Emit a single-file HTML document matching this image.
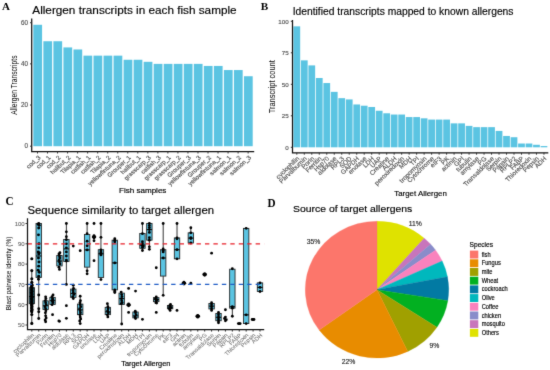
<!DOCTYPE html>
<html><head><meta charset="utf-8"><style>
html,body{margin:0;padding:0;background:#fff;}
svg{display:block;font-family:"Liberation Sans", sans-serif;}
</style></head><body>
<svg width="550" height="370" viewBox="0 0 550 370">
<defs><filter id="bl" x="0" y="0" width="100%" height="100%" color-interpolation-filters="sRGB"><feConvolveMatrix order="3" kernelMatrix="0.02 0.12 0.02 0.12 1 0.12 0.02 0.12 0.02" divisor="1.56" edgeMode="duplicate"/></filter></defs>
<g filter="url(#bl)">
<rect width="550" height="370" fill="#fff"/>
<text x="2.0" y="9.6" font-family="'Liberation Serif', serif" font-weight="bold" font-size="11.0">A</text>
<text x="32.30" y="13.80" font-size="10.2" fill="#000" text-anchor="start" textLength="204.30" lengthAdjust="spacingAndGlyphs"  stroke="#000" stroke-width="0.15">Allergen transcripts in each fish sample</text>
<rect x="33.33" y="24.78" width="8.75" height="121.42" fill="#5bc4e2"/>
<rect x="43.36" y="41.24" width="8.75" height="104.96" fill="#5bc4e2"/>
<rect x="53.39" y="41.24" width="8.75" height="104.96" fill="#5bc4e2"/>
<rect x="63.42" y="47.42" width="8.75" height="98.78" fill="#5bc4e2"/>
<rect x="73.45" y="49.47" width="8.75" height="96.73" fill="#5bc4e2"/>
<rect x="83.48" y="55.65" width="8.75" height="90.55" fill="#5bc4e2"/>
<rect x="93.50" y="55.65" width="8.75" height="90.55" fill="#5bc4e2"/>
<rect x="103.53" y="55.65" width="8.75" height="90.55" fill="#5bc4e2"/>
<rect x="113.56" y="55.65" width="8.75" height="90.55" fill="#5bc4e2"/>
<rect x="123.59" y="59.76" width="8.75" height="86.44" fill="#5bc4e2"/>
<rect x="133.62" y="59.76" width="8.75" height="86.44" fill="#5bc4e2"/>
<rect x="143.65" y="61.82" width="8.75" height="84.38" fill="#5bc4e2"/>
<rect x="153.68" y="63.88" width="8.75" height="82.32" fill="#5bc4e2"/>
<rect x="163.71" y="63.88" width="8.75" height="82.32" fill="#5bc4e2"/>
<rect x="173.74" y="63.88" width="8.75" height="82.32" fill="#5bc4e2"/>
<rect x="183.77" y="63.88" width="8.75" height="82.32" fill="#5bc4e2"/>
<rect x="193.80" y="63.88" width="8.75" height="82.32" fill="#5bc4e2"/>
<rect x="203.83" y="65.94" width="8.75" height="80.26" fill="#5bc4e2"/>
<rect x="213.86" y="65.94" width="8.75" height="80.26" fill="#5bc4e2"/>
<rect x="223.89" y="70.05" width="8.75" height="76.15" fill="#5bc4e2"/>
<rect x="233.92" y="70.05" width="8.75" height="76.15" fill="#5bc4e2"/>
<rect x="243.95" y="76.23" width="8.75" height="69.97" fill="#5bc4e2"/>
<path d="M31.7,18.5V151.6H254.2" fill="none" stroke="#111" stroke-width="1.25"/>
<path d="M30.0,146.20H31.7" stroke="#333" stroke-width="1"/>
<text x="28.00" y="148.40" font-size="6.3" fill="#525252" text-anchor="end"  stroke="#525252" stroke-width="0.15">0</text>
<path d="M30.0,105.04H31.7" stroke="#333" stroke-width="1"/>
<text x="28.00" y="107.24" font-size="6.3" fill="#525252" text-anchor="end"  stroke="#525252" stroke-width="0.15">20</text>
<path d="M30.0,63.88H31.7" stroke="#333" stroke-width="1"/>
<text x="28.00" y="66.08" font-size="6.3" fill="#525252" text-anchor="end"  stroke="#525252" stroke-width="0.15">40</text>
<path d="M30.0,22.72H31.7" stroke="#333" stroke-width="1"/>
<text x="28.00" y="24.92" font-size="6.3" fill="#525252" text-anchor="end"  stroke="#525252" stroke-width="0.15">60</text>
<path d="M37.50,151.6V153.50" stroke="#333" stroke-width="1"/>
<text transform="translate(40.90,157.90) scale(1.1,1) rotate(-45)" font-size="5.8" fill="#525252" text-anchor="end" stroke="#525252" stroke-width="0.15">cod_3</text>
<path d="M47.53,151.6V153.50" stroke="#333" stroke-width="1"/>
<text transform="translate(50.93,157.90) scale(1.1,1) rotate(-45)" font-size="5.8" fill="#525252" text-anchor="end" stroke="#525252" stroke-width="0.15">cod_1</text>
<path d="M57.56,151.6V153.50" stroke="#333" stroke-width="1"/>
<text transform="translate(60.96,157.90) scale(1.1,1) rotate(-45)" font-size="5.8" fill="#525252" text-anchor="end" stroke="#525252" stroke-width="0.15">cod_2</text>
<path d="M67.59,151.6V153.50" stroke="#333" stroke-width="1"/>
<text transform="translate(70.99,157.90) scale(1.1,1) rotate(-45)" font-size="5.8" fill="#525252" text-anchor="end" stroke="#525252" stroke-width="0.15">halibut_2</text>
<path d="M77.62,151.6V153.50" stroke="#333" stroke-width="1"/>
<text transform="translate(81.02,157.90) scale(1.1,1) rotate(-45)" font-size="5.8" fill="#525252" text-anchor="end" stroke="#525252" stroke-width="0.15">Tilapia_1</text>
<path d="M87.65,151.6V153.50" stroke="#333" stroke-width="1"/>
<text transform="translate(91.05,157.90) scale(1.1,1) rotate(-45)" font-size="5.8" fill="#525252" text-anchor="end" stroke="#525252" stroke-width="0.15">catfish_1</text>
<path d="M97.68,151.6V153.50" stroke="#333" stroke-width="1"/>
<text transform="translate(101.08,157.90) scale(1.1,1) rotate(-45)" font-size="5.8" fill="#525252" text-anchor="end" stroke="#525252" stroke-width="0.15">catfish_2</text>
<path d="M107.71,151.6V153.50" stroke="#333" stroke-width="1"/>
<text transform="translate(111.11,157.90) scale(1.1,1) rotate(-45)" font-size="5.8" fill="#525252" text-anchor="end" stroke="#525252" stroke-width="0.15">Tilapia_2</text>
<path d="M117.74,151.6V153.50" stroke="#333" stroke-width="1"/>
<text transform="translate(121.14,157.90) scale(1.1,1) rotate(-45)" font-size="5.8" fill="#525252" text-anchor="end" stroke="#525252" stroke-width="0.15">yellowfintuna_2</text>
<path d="M127.77,151.6V153.50" stroke="#333" stroke-width="1"/>
<text transform="translate(131.17,157.90) scale(1.1,1) rotate(-45)" font-size="5.8" fill="#525252" text-anchor="end" stroke="#525252" stroke-width="0.15">Grouper_1</text>
<path d="M137.80,151.6V153.50" stroke="#333" stroke-width="1"/>
<text transform="translate(141.20,157.90) scale(1.1,1) rotate(-45)" font-size="5.8" fill="#525252" text-anchor="end" stroke="#525252" stroke-width="0.15">halibut_1</text>
<path d="M147.83,151.6V153.50" stroke="#333" stroke-width="1"/>
<text transform="translate(151.23,157.90) scale(1.1,1) rotate(-45)" font-size="5.8" fill="#525252" text-anchor="end" stroke="#525252" stroke-width="0.15">grasscarp_3</text>
<path d="M157.86,151.6V153.50" stroke="#333" stroke-width="1"/>
<text transform="translate(161.26,157.90) scale(1.1,1) rotate(-45)" font-size="5.8" fill="#525252" text-anchor="end" stroke="#525252" stroke-width="0.15">catfish_3</text>
<path d="M167.89,151.6V153.50" stroke="#333" stroke-width="1"/>
<text transform="translate(171.29,157.90) scale(1.1,1) rotate(-45)" font-size="5.8" fill="#525252" text-anchor="end" stroke="#525252" stroke-width="0.15">grasscarp_1</text>
<path d="M177.92,151.6V153.50" stroke="#333" stroke-width="1"/>
<text transform="translate(181.32,157.90) scale(1.1,1) rotate(-45)" font-size="5.8" fill="#525252" text-anchor="end" stroke="#525252" stroke-width="0.15">grasscarp_2</text>
<path d="M187.95,151.6V153.50" stroke="#333" stroke-width="1"/>
<text transform="translate(191.35,157.90) scale(1.1,1) rotate(-45)" font-size="5.8" fill="#525252" text-anchor="end" stroke="#525252" stroke-width="0.15">Grouper_3</text>
<path d="M197.98,151.6V153.50" stroke="#333" stroke-width="1"/>
<text transform="translate(201.38,157.90) scale(1.1,1) rotate(-45)" font-size="5.8" fill="#525252" text-anchor="end" stroke="#525252" stroke-width="0.15">yellowfintuna_3</text>
<path d="M208.01,151.6V153.50" stroke="#333" stroke-width="1"/>
<text transform="translate(211.41,157.90) scale(1.1,1) rotate(-45)" font-size="5.8" fill="#525252" text-anchor="end" stroke="#525252" stroke-width="0.15">Grouper_2</text>
<path d="M218.04,151.6V153.50" stroke="#333" stroke-width="1"/>
<text transform="translate(221.44,157.90) scale(1.1,1) rotate(-45)" font-size="5.8" fill="#525252" text-anchor="end" stroke="#525252" stroke-width="0.15">yellowfintuna_1</text>
<path d="M228.07,151.6V153.50" stroke="#333" stroke-width="1"/>
<text transform="translate(231.47,157.90) scale(1.1,1) rotate(-45)" font-size="5.8" fill="#525252" text-anchor="end" stroke="#525252" stroke-width="0.15">salmon_1</text>
<path d="M238.10,151.6V153.50" stroke="#333" stroke-width="1"/>
<text transform="translate(241.50,157.90) scale(1.1,1) rotate(-45)" font-size="5.8" fill="#525252" text-anchor="end" stroke="#525252" stroke-width="0.15">salmon_2</text>
<path d="M248.13,151.6V153.50" stroke="#333" stroke-width="1"/>
<text transform="translate(251.53,157.90) scale(1.1,1) rotate(-45)" font-size="5.8" fill="#525252" text-anchor="end" stroke="#525252" stroke-width="0.15">salmon_3</text>
<text x="119.00" y="192.50" font-size="6.9" fill="#000" text-anchor="start" textLength="47.40" lengthAdjust="spacingAndGlyphs"  stroke="#000" stroke-width="0.15">Fish samples</text>
<text transform="translate(16.70,85.10) scale(1.0,1) rotate(-90)" font-size="8.8" fill="#000" text-anchor="middle" textLength="59.20" lengthAdjust="spacingAndGlyphs">Allergen Transcripts</text>
<text x="260.8" y="9.5" font-family="'Liberation Serif', serif" font-weight="bold" font-size="11.2">B</text>
<text x="292.70" y="14.50" font-size="10.5" fill="#000" text-anchor="start" textLength="220.80" lengthAdjust="spacingAndGlyphs"  stroke="#000" stroke-width="0.15">Identified transcripts mapped to known allergens</text>
<rect x="293.43" y="26.34" width="6.74" height="120.96" fill="#5bc4e2"/>
<rect x="300.92" y="60.36" width="6.74" height="86.94" fill="#5bc4e2"/>
<rect x="308.41" y="65.40" width="6.74" height="81.90" fill="#5bc4e2"/>
<rect x="315.90" y="78.00" width="6.74" height="69.30" fill="#5bc4e2"/>
<rect x="323.39" y="83.04" width="6.74" height="64.26" fill="#5bc4e2"/>
<rect x="330.88" y="91.86" width="6.74" height="55.44" fill="#5bc4e2"/>
<rect x="338.37" y="98.16" width="6.74" height="49.14" fill="#5bc4e2"/>
<rect x="345.86" y="99.42" width="6.74" height="47.88" fill="#5bc4e2"/>
<rect x="353.35" y="104.46" width="6.74" height="42.84" fill="#5bc4e2"/>
<rect x="360.84" y="105.72" width="6.74" height="41.58" fill="#5bc4e2"/>
<rect x="368.33" y="106.98" width="6.74" height="40.32" fill="#5bc4e2"/>
<rect x="375.82" y="110.76" width="6.74" height="36.54" fill="#5bc4e2"/>
<rect x="383.31" y="113.28" width="6.74" height="34.02" fill="#5bc4e2"/>
<rect x="390.80" y="114.54" width="6.74" height="32.76" fill="#5bc4e2"/>
<rect x="398.29" y="114.54" width="6.74" height="32.76" fill="#5bc4e2"/>
<rect x="405.78" y="117.06" width="6.74" height="30.24" fill="#5bc4e2"/>
<rect x="413.27" y="117.06" width="6.74" height="30.24" fill="#5bc4e2"/>
<rect x="420.76" y="118.32" width="6.74" height="28.98" fill="#5bc4e2"/>
<rect x="428.25" y="119.58" width="6.74" height="27.72" fill="#5bc4e2"/>
<rect x="435.74" y="119.58" width="6.74" height="27.72" fill="#5bc4e2"/>
<rect x="443.23" y="119.58" width="6.74" height="27.72" fill="#5bc4e2"/>
<rect x="450.72" y="123.36" width="6.74" height="23.94" fill="#5bc4e2"/>
<rect x="458.21" y="123.36" width="6.74" height="23.94" fill="#5bc4e2"/>
<rect x="465.70" y="125.88" width="6.74" height="21.42" fill="#5bc4e2"/>
<rect x="473.19" y="127.14" width="6.74" height="20.16" fill="#5bc4e2"/>
<rect x="480.68" y="127.14" width="6.74" height="20.16" fill="#5bc4e2"/>
<rect x="488.17" y="127.14" width="6.74" height="20.16" fill="#5bc4e2"/>
<rect x="495.66" y="130.92" width="6.74" height="16.38" fill="#5bc4e2"/>
<rect x="503.15" y="135.96" width="6.74" height="11.34" fill="#5bc4e2"/>
<rect x="510.64" y="137.22" width="6.74" height="10.08" fill="#5bc4e2"/>
<rect x="518.13" y="143.52" width="6.74" height="3.78" fill="#5bc4e2"/>
<rect x="525.62" y="143.52" width="6.74" height="3.78" fill="#5bc4e2"/>
<rect x="533.11" y="144.78" width="6.74" height="2.52" fill="#5bc4e2"/>
<rect x="540.60" y="146.04" width="6.74" height="1.26" fill="#5bc4e2"/>
<path d="M292.5,20.0V152.8H548.3" fill="none" stroke="#111" stroke-width="1.25"/>
<path d="M290.8,147.30H292.5" stroke="#333" stroke-width="1"/>
<text x="288.70" y="149.50" font-size="6.2" fill="#525252" text-anchor="end"  stroke="#525252" stroke-width="0.15">0</text>
<path d="M290.8,115.80H292.5" stroke="#333" stroke-width="1"/>
<text x="288.70" y="118.00" font-size="6.2" fill="#525252" text-anchor="end"  stroke="#525252" stroke-width="0.15">25</text>
<path d="M290.8,84.30H292.5" stroke="#333" stroke-width="1"/>
<text x="288.70" y="86.50" font-size="6.2" fill="#525252" text-anchor="end"  stroke="#525252" stroke-width="0.15">50</text>
<path d="M290.8,52.80H292.5" stroke="#333" stroke-width="1"/>
<text x="288.70" y="55.00" font-size="6.2" fill="#525252" text-anchor="end"  stroke="#525252" stroke-width="0.15">75</text>
<path d="M290.8,21.30H292.5" stroke="#333" stroke-width="1"/>
<text x="288.70" y="23.50" font-size="6.2" fill="#525252" text-anchor="end"  stroke="#525252" stroke-width="0.15">100</text>
<path d="M296.80,152.8V154.70" stroke="#333" stroke-width="1"/>
<text transform="translate(299.70,159.00) scale(1.03,1) rotate(-45)" font-size="6.3" fill="#525252" text-anchor="end" stroke="#525252" stroke-width="0.15">cyclophilin</text>
<path d="M304.29,152.8V154.70" stroke="#333" stroke-width="1"/>
<text transform="translate(307.19,159.00) scale(1.03,1) rotate(-45)" font-size="6.3" fill="#525252" text-anchor="end" stroke="#525252" stroke-width="0.15">Parvalbumin</text>
<path d="M311.78,152.8V154.70" stroke="#333" stroke-width="1"/>
<text transform="translate(314.68,159.00) scale(1.03,1) rotate(-45)" font-size="6.3" fill="#525252" text-anchor="end" stroke="#525252" stroke-width="0.15">Porin</text>
<path d="M319.27,152.8V154.70" stroke="#333" stroke-width="1"/>
<text transform="translate(322.17,159.00) scale(1.03,1) rotate(-45)" font-size="6.3" fill="#525252" text-anchor="end" stroke="#525252" stroke-width="0.15">Ferritin</text>
<path d="M326.76,152.8V154.70" stroke="#333" stroke-width="1"/>
<text transform="translate(329.66,159.00) scale(1.03,1) rotate(-45)" font-size="6.3" fill="#525252" text-anchor="end" stroke="#525252" stroke-width="0.15">Hsp70</text>
<path d="M334.25,152.8V154.70" stroke="#333" stroke-width="1"/>
<text transform="translate(337.15,159.00) scale(1.03,1) rotate(-45)" font-size="6.3" fill="#525252" text-anchor="end" stroke="#525252" stroke-width="0.15">aldolase</text>
<path d="M341.74,152.8V154.70" stroke="#333" stroke-width="1"/>
<text transform="translate(344.64,159.00) scale(1.03,1) rotate(-45)" font-size="6.3" fill="#525252" text-anchor="end" stroke="#525252" stroke-width="0.15">RPL3</text>
<path d="M349.23,152.8V154.70" stroke="#333" stroke-width="1"/>
<text transform="translate(352.13,159.00) scale(1.03,1) rotate(-45)" font-size="6.3" fill="#525252" text-anchor="end" stroke="#525252" stroke-width="0.15">SOD</text>
<path d="M356.72,152.8V154.70" stroke="#333" stroke-width="1"/>
<text transform="translate(359.62,159.00) scale(1.03,1) rotate(-45)" font-size="6.3" fill="#525252" text-anchor="end" stroke="#525252" stroke-width="0.15">GAPDH</text>
<path d="M364.21,152.8V154.70" stroke="#333" stroke-width="1"/>
<text transform="translate(367.11,159.00) scale(1.03,1) rotate(-45)" font-size="6.3" fill="#525252" text-anchor="end" stroke="#525252" stroke-width="0.15">enolase</text>
<path d="M371.70,152.8V154.70" stroke="#333" stroke-width="1"/>
<text transform="translate(374.60,159.00) scale(1.03,1) rotate(-45)" font-size="6.3" fill="#525252" text-anchor="end" stroke="#525252" stroke-width="0.15">LDH</text>
<path d="M379.19,152.8V154.70" stroke="#333" stroke-width="1"/>
<text transform="translate(382.09,159.00) scale(1.03,1) rotate(-45)" font-size="6.3" fill="#525252" text-anchor="end" stroke="#525252" stroke-width="0.15">UAP</text>
<path d="M386.68,152.8V154.70" stroke="#333" stroke-width="1"/>
<text transform="translate(389.58,159.00) scale(1.03,1) rotate(-45)" font-size="6.3" fill="#525252" text-anchor="end" stroke="#525252" stroke-width="0.15">Creatine</text>
<path d="M394.17,152.8V154.70" stroke="#333" stroke-width="1"/>
<text transform="translate(397.07,159.00) scale(1.03,1) rotate(-45)" font-size="6.3" fill="#525252" text-anchor="end" stroke="#525252" stroke-width="0.15">ALDH</text>
<path d="M401.66,152.8V154.70" stroke="#333" stroke-width="1"/>
<text transform="translate(404.56,159.00) scale(1.03,1) rotate(-45)" font-size="6.3" fill="#525252" text-anchor="end" stroke="#525252" stroke-width="0.15">peroxiredoxin</text>
<path d="M409.15,152.8V154.70" stroke="#333" stroke-width="1"/>
<text transform="translate(412.05,159.00) scale(1.03,1) rotate(-45)" font-size="6.3" fill="#525252" text-anchor="end" stroke="#525252" stroke-width="0.15">MDH</text>
<path d="M416.64,152.8V154.70" stroke="#333" stroke-width="1"/>
<text transform="translate(419.54,159.00) scale(1.03,1) rotate(-45)" font-size="6.3" fill="#525252" text-anchor="end" stroke="#525252" stroke-width="0.15">TPI</text>
<path d="M424.13,152.8V154.70" stroke="#333" stroke-width="1"/>
<text transform="translate(427.03,159.00) scale(1.03,1) rotate(-45)" font-size="6.3" fill="#525252" text-anchor="end" stroke="#525252" stroke-width="0.15">tropomyosin</text>
<path d="M431.62,152.8V154.70" stroke="#333" stroke-width="1"/>
<text transform="translate(434.52,159.00) scale(1.03,1) rotate(-45)" font-size="6.3" fill="#525252" text-anchor="end" stroke="#525252" stroke-width="0.15">Cytochrome</text>
<path d="M439.11,152.8V154.70" stroke="#333" stroke-width="1"/>
<text transform="translate(442.01,159.00) scale(1.03,1) rotate(-45)" font-size="6.3" fill="#525252" text-anchor="end" stroke="#525252" stroke-width="0.15">eIF3</text>
<path d="M446.60,152.8V154.70" stroke="#333" stroke-width="1"/>
<text transform="translate(449.50,159.00) scale(1.03,1) rotate(-45)" font-size="6.3" fill="#525252" text-anchor="end" stroke="#525252" stroke-width="0.15">PK</text>
<path d="M454.09,152.8V154.70" stroke="#333" stroke-width="1"/>
<text transform="translate(456.99,159.00) scale(1.03,1) rotate(-45)" font-size="6.3" fill="#525252" text-anchor="end" stroke="#525252" stroke-width="0.15">actinin</text>
<path d="M461.58,152.8V154.70" stroke="#333" stroke-width="1"/>
<text transform="translate(464.48,159.00) scale(1.03,1) rotate(-45)" font-size="6.3" fill="#525252" text-anchor="end" stroke="#525252" stroke-width="0.15">GPI</text>
<path d="M469.07,152.8V154.70" stroke="#333" stroke-width="1"/>
<text transform="translate(471.97,159.00) scale(1.03,1) rotate(-45)" font-size="6.3" fill="#525252" text-anchor="end" stroke="#525252" stroke-width="0.15">tubulin</text>
<path d="M476.56,152.8V154.70" stroke="#333" stroke-width="1"/>
<text transform="translate(479.46,159.00) scale(1.03,1) rotate(-45)" font-size="6.3" fill="#525252" text-anchor="end" stroke="#525252" stroke-width="0.15">amylase</text>
<path d="M484.05,152.8V154.70" stroke="#333" stroke-width="1"/>
<text transform="translate(486.95,159.00) scale(1.03,1) rotate(-45)" font-size="6.3" fill="#525252" text-anchor="end" stroke="#525252" stroke-width="0.15">PG</text>
<path d="M491.54,152.8V154.70" stroke="#333" stroke-width="1"/>
<text transform="translate(494.44,159.00) scale(1.03,1) rotate(-45)" font-size="6.3" fill="#525252" text-anchor="end" stroke="#525252" stroke-width="0.15">Transaldolase</text>
<path d="M499.03,152.8V154.70" stroke="#333" stroke-width="1"/>
<text transform="translate(501.93,159.00) scale(1.03,1) rotate(-45)" font-size="6.3" fill="#525252" text-anchor="end" stroke="#525252" stroke-width="0.15">Serpin</text>
<path d="M506.52,152.8V154.70" stroke="#333" stroke-width="1"/>
<text transform="translate(509.42,159.00) scale(1.03,1) rotate(-45)" font-size="6.3" fill="#525252" text-anchor="end" stroke="#525252" stroke-width="0.15">Papain</text>
<path d="M514.01,152.8V154.70" stroke="#333" stroke-width="1"/>
<text transform="translate(516.91,159.00) scale(1.03,1) rotate(-45)" font-size="6.3" fill="#525252" text-anchor="end" stroke="#525252" stroke-width="0.15">RPLP2</text>
<path d="M521.50,152.8V154.70" stroke="#333" stroke-width="1"/>
<text transform="translate(524.40,159.00) scale(1.03,1) rotate(-45)" font-size="6.3" fill="#525252" text-anchor="end" stroke="#525252" stroke-width="0.15">FABP</text>
<path d="M528.99,152.8V154.70" stroke="#333" stroke-width="1"/>
<text transform="translate(531.89,159.00) scale(1.03,1) rotate(-45)" font-size="6.3" fill="#525252" text-anchor="end" stroke="#525252" stroke-width="0.15">Thioredoxin</text>
<path d="M536.48,152.8V154.70" stroke="#333" stroke-width="1"/>
<text transform="translate(539.38,159.00) scale(1.03,1) rotate(-45)" font-size="6.3" fill="#525252" text-anchor="end" stroke="#525252" stroke-width="0.15">Pepsin</text>
<path d="M543.97,152.8V154.70" stroke="#333" stroke-width="1"/>
<text transform="translate(546.87,159.00) scale(1.03,1) rotate(-45)" font-size="6.3" fill="#525252" text-anchor="end" stroke="#525252" stroke-width="0.15">ADH</text>
<text x="394.20" y="195.60" font-size="7.7" fill="#000" text-anchor="start" textLength="52.70" lengthAdjust="spacingAndGlyphs"  stroke="#000" stroke-width="0.15">Target Allergen</text>
<text transform="translate(274.80,86.75) scale(1.0,1) rotate(-90)" font-size="8.3" fill="#000" text-anchor="middle" textLength="53.10" lengthAdjust="spacingAndGlyphs">Transcript count</text>
<text transform="translate(5.6,204.8) scale(1,1.1)" font-family="'Liberation Serif', serif" font-weight="bold" font-size="11.2">C</text>
<text x="27.50" y="213.60" font-size="10.0" fill="#000" text-anchor="start" textLength="186.50" lengthAdjust="spacingAndGlyphs"  stroke="#000" stroke-width="0.15">Sequence similarity to target allergen</text>
<path d="M31.80,270.60V287.65M31.80,303.69V323.38" stroke="#333" stroke-width="1.0"/>
<rect x="29.10" y="287.65" width="5.4" height="16.04" fill="#2e7486" stroke="#222" stroke-width="0.85"/>
<path d="M29.10,296.58H34.50" stroke="#111" stroke-width="1.1"/>
<circle cx="31.80" cy="258.82" r="1.55" fill="#000"/>
<circle cx="31.80" cy="270.60" r="1.55" fill="#000"/>
<circle cx="31.80" cy="278.72" r="1.55" fill="#000"/>
<circle cx="31.80" cy="282.37" r="1.55" fill="#000"/>
<circle cx="31.80" cy="311.81" r="1.55" fill="#000"/>
<circle cx="31.45" cy="310.79" r="1.55" fill="#000"/>
<circle cx="32.15" cy="309.77" r="1.55" fill="#000"/>
<circle cx="31.80" cy="308.76" r="1.55" fill="#000"/>
<circle cx="31.62" cy="307.75" r="1.55" fill="#000"/>
<circle cx="31.98" cy="306.73" r="1.55" fill="#000"/>
<circle cx="31.80" cy="305.72" r="1.55" fill="#000"/>
<circle cx="31.45" cy="304.70" r="1.55" fill="#000"/>
<circle cx="32.15" cy="303.69" r="1.55" fill="#000"/>
<circle cx="31.80" cy="302.67" r="1.55" fill="#000"/>
<circle cx="31.62" cy="301.65" r="1.55" fill="#000"/>
<circle cx="31.98" cy="300.64" r="1.55" fill="#000"/>
<circle cx="31.80" cy="299.62" r="1.55" fill="#000"/>
<circle cx="31.45" cy="298.61" r="1.55" fill="#000"/>
<circle cx="32.15" cy="297.60" r="1.55" fill="#000"/>
<circle cx="31.80" cy="296.58" r="1.55" fill="#000"/>
<circle cx="31.62" cy="295.56" r="1.55" fill="#000"/>
<circle cx="31.98" cy="294.55" r="1.55" fill="#000"/>
<circle cx="31.80" cy="293.54" r="1.55" fill="#000"/>
<circle cx="31.45" cy="292.52" r="1.55" fill="#000"/>
<circle cx="32.15" cy="291.50" r="1.55" fill="#000"/>
<circle cx="31.80" cy="290.49" r="1.55" fill="#000"/>
<circle cx="31.62" cy="289.48" r="1.55" fill="#000"/>
<circle cx="31.98" cy="288.46" r="1.55" fill="#000"/>
<circle cx="31.80" cy="287.44" r="1.55" fill="#000"/>
<circle cx="31.45" cy="286.43" r="1.55" fill="#000"/>
<circle cx="32.15" cy="285.42" r="1.55" fill="#000"/>
<circle cx="31.80" cy="284.40" r="1.55" fill="#000"/>
<circle cx="31.80" cy="314.44" r="1.55" fill="#000"/>
<circle cx="31.80" cy="323.38" r="1.55" fill="#000"/>
<path d="M38.72,223.50V223.50M38.72,277.50V318.50" stroke="#333" stroke-width="1.0"/>
<rect x="36.02" y="223.50" width="5.4" height="54.00" fill="#5bc4e2" stroke="#222" stroke-width="0.85"/>
<path d="M36.02,255.98H41.42" stroke="#111" stroke-width="1.1"/>
<circle cx="38.72" cy="223.50" r="1.45" fill="#000"/>
<circle cx="38.22" cy="224.31" r="1.45" fill="#000"/>
<circle cx="39.22" cy="225.33" r="1.45" fill="#000"/>
<circle cx="38.72" cy="227.97" r="1.45" fill="#000"/>
<circle cx="38.47" cy="234.87" r="1.45" fill="#000"/>
<circle cx="38.97" cy="243.80" r="1.45" fill="#000"/>
<circle cx="38.72" cy="247.86" r="1.45" fill="#000"/>
<circle cx="38.22" cy="251.92" r="1.45" fill="#000"/>
<circle cx="39.22" cy="252.94" r="1.45" fill="#000"/>
<circle cx="38.72" cy="253.95" r="1.45" fill="#000"/>
<circle cx="38.47" cy="258.01" r="1.45" fill="#000"/>
<circle cx="38.97" cy="262.07" r="1.45" fill="#000"/>
<circle cx="38.72" cy="266.13" r="1.45" fill="#000"/>
<circle cx="38.22" cy="270.19" r="1.45" fill="#000"/>
<circle cx="39.22" cy="272.22" r="1.45" fill="#000"/>
<circle cx="38.72" cy="276.28" r="1.45" fill="#000"/>
<circle cx="38.47" cy="279.32" r="1.45" fill="#000"/>
<circle cx="38.72" cy="294.96" r="1.45" fill="#000"/>
<circle cx="38.72" cy="308.76" r="1.45" fill="#000"/>
<circle cx="38.72" cy="311.81" r="1.45" fill="#000"/>
<circle cx="38.72" cy="318.50" r="1.45" fill="#000"/>
<path d="M45.63,296.78V300.84M45.63,309.57V321.75" stroke="#333" stroke-width="1.0"/>
<rect x="42.93" y="300.84" width="5.4" height="8.73" fill="#5bc4e2" stroke="#222" stroke-width="0.85"/>
<path d="M42.93,305.72H48.33" stroke="#111" stroke-width="1.1"/>
<circle cx="45.63" cy="321.75" r="1.4" fill="#000"/>
<circle cx="45.13" cy="319.93" r="1.4" fill="#000"/>
<circle cx="46.13" cy="317.89" r="1.4" fill="#000"/>
<circle cx="45.63" cy="315.87" r="1.4" fill="#000"/>
<circle cx="45.38" cy="312.82" r="1.4" fill="#000"/>
<circle cx="45.88" cy="310.79" r="1.4" fill="#000"/>
<circle cx="45.63" cy="308.76" r="1.4" fill="#000"/>
<circle cx="45.13" cy="306.73" r="1.4" fill="#000"/>
<circle cx="46.13" cy="304.70" r="1.4" fill="#000"/>
<circle cx="45.63" cy="302.67" r="1.4" fill="#000"/>
<circle cx="45.38" cy="300.64" r="1.4" fill="#000"/>
<circle cx="45.88" cy="298.61" r="1.4" fill="#000"/>
<circle cx="45.63" cy="296.78" r="1.4" fill="#000"/>
<path d="M52.55,294.96V297.39M52.55,304.50V305.72" stroke="#333" stroke-width="1.0"/>
<rect x="49.84" y="297.39" width="5.4" height="7.11" fill="#5bc4e2" stroke="#222" stroke-width="0.85"/>
<path d="M49.84,300.64H55.25" stroke="#111" stroke-width="1.1"/>
<circle cx="52.55" cy="314.65" r="1.4" fill="#000"/>
<circle cx="52.05" cy="304.70" r="1.4" fill="#000"/>
<circle cx="53.05" cy="302.67" r="1.4" fill="#000"/>
<circle cx="52.55" cy="301.65" r="1.4" fill="#000"/>
<circle cx="52.30" cy="300.64" r="1.4" fill="#000"/>
<circle cx="52.80" cy="299.62" r="1.4" fill="#000"/>
<circle cx="52.55" cy="298.61" r="1.4" fill="#000"/>
<circle cx="52.05" cy="296.58" r="1.4" fill="#000"/>
<circle cx="53.05" cy="294.96" r="1.4" fill="#000"/>
<path d="M59.46,252.73V255.57M59.46,265.93V269.38" stroke="#333" stroke-width="1.0"/>
<rect x="56.76" y="255.57" width="5.4" height="10.35" fill="#5bc4e2" stroke="#222" stroke-width="0.85"/>
<path d="M56.76,261.06H62.16" stroke="#111" stroke-width="1.1"/>
<circle cx="59.46" cy="269.38" r="1.4" fill="#000"/>
<circle cx="58.96" cy="267.14" r="1.4" fill="#000"/>
<circle cx="59.96" cy="264.10" r="1.4" fill="#000"/>
<circle cx="59.46" cy="262.07" r="1.4" fill="#000"/>
<circle cx="59.21" cy="260.04" r="1.4" fill="#000"/>
<circle cx="59.71" cy="258.01" r="1.4" fill="#000"/>
<circle cx="59.46" cy="255.98" r="1.4" fill="#000"/>
<circle cx="58.96" cy="253.95" r="1.4" fill="#000"/>
<circle cx="59.96" cy="252.73" r="1.4" fill="#000"/>
<circle cx="59.46" cy="321.35" r="1.4" fill="#000"/>
<circle cx="58.86" cy="320.94" r="1.4" fill="#000"/>
<path d="M66.38,223.50V239.54M66.38,261.46V284.40" stroke="#333" stroke-width="1.0"/>
<rect x="63.67" y="239.54" width="5.4" height="21.92" fill="#5bc4e2" stroke="#222" stroke-width="0.85"/>
<path d="M63.67,248.88H69.08" stroke="#111" stroke-width="1.1"/>
<circle cx="66.38" cy="223.50" r="1.4" fill="#000"/>
<circle cx="66.38" cy="231.82" r="1.4" fill="#000"/>
<circle cx="66.38" cy="236.69" r="1.4" fill="#000"/>
<circle cx="66.38" cy="239.74" r="1.4" fill="#000"/>
<circle cx="66.38" cy="243.80" r="1.4" fill="#000"/>
<circle cx="66.38" cy="247.86" r="1.4" fill="#000"/>
<circle cx="66.38" cy="251.92" r="1.4" fill="#000"/>
<circle cx="66.38" cy="255.98" r="1.4" fill="#000"/>
<circle cx="66.38" cy="260.04" r="1.4" fill="#000"/>
<circle cx="66.38" cy="261.06" r="1.4" fill="#000"/>
<circle cx="66.38" cy="284.40" r="1.4" fill="#000"/>
<circle cx="66.38" cy="305.72" r="1.4" fill="#000"/>
<circle cx="66.38" cy="318.30" r="1.4" fill="#000"/>
<path d="M73.29,285.21V289.07M73.29,297.39V298.61" stroke="#333" stroke-width="1.0"/>
<rect x="70.59" y="289.07" width="5.4" height="8.32" fill="#5bc4e2" stroke="#222" stroke-width="0.85"/>
<path d="M70.59,293.54H75.99" stroke="#111" stroke-width="1.1"/>
<circle cx="73.29" cy="298.61" r="1.4" fill="#000"/>
<circle cx="72.79" cy="296.58" r="1.4" fill="#000"/>
<circle cx="73.79" cy="294.55" r="1.4" fill="#000"/>
<circle cx="73.29" cy="292.52" r="1.4" fill="#000"/>
<circle cx="73.04" cy="290.49" r="1.4" fill="#000"/>
<circle cx="73.54" cy="288.46" r="1.4" fill="#000"/>
<circle cx="73.29" cy="285.21" r="1.4" fill="#000"/>
<circle cx="73.29" cy="246.03" r="1.4" fill="#000"/>
<path d="M80.20,296.17V304.09M80.20,314.65V323.58" stroke="#333" stroke-width="1.0"/>
<rect x="77.50" y="304.09" width="5.4" height="10.56" fill="#5bc4e2" stroke="#222" stroke-width="0.85"/>
<path d="M77.50,309.77H82.91" stroke="#111" stroke-width="1.1"/>
<circle cx="80.20" cy="323.58" r="1.4" fill="#000"/>
<circle cx="79.70" cy="320.94" r="1.4" fill="#000"/>
<circle cx="80.70" cy="318.91" r="1.4" fill="#000"/>
<circle cx="80.20" cy="316.88" r="1.4" fill="#000"/>
<circle cx="79.95" cy="314.85" r="1.4" fill="#000"/>
<circle cx="80.45" cy="312.82" r="1.4" fill="#000"/>
<circle cx="80.20" cy="310.79" r="1.4" fill="#000"/>
<circle cx="79.70" cy="308.76" r="1.4" fill="#000"/>
<circle cx="80.70" cy="306.73" r="1.4" fill="#000"/>
<circle cx="80.20" cy="304.70" r="1.4" fill="#000"/>
<circle cx="79.95" cy="302.67" r="1.4" fill="#000"/>
<circle cx="80.45" cy="300.64" r="1.4" fill="#000"/>
<circle cx="80.20" cy="296.17" r="1.4" fill="#000"/>
<circle cx="80.20" cy="250.70" r="1.4" fill="#000"/>
<path d="M87.12,223.50V234.46M87.12,267.14V273.84" stroke="#333" stroke-width="1.0"/>
<rect x="84.42" y="234.46" width="5.4" height="32.68" fill="#5bc4e2" stroke="#222" stroke-width="0.85"/>
<path d="M84.42,249.89H89.82" stroke="#111" stroke-width="1.1"/>
<circle cx="87.12" cy="223.50" r="1.4" fill="#000"/>
<circle cx="87.12" cy="233.65" r="1.4" fill="#000"/>
<circle cx="87.12" cy="241.16" r="1.4" fill="#000"/>
<circle cx="87.12" cy="245.83" r="1.4" fill="#000"/>
<circle cx="87.12" cy="249.89" r="1.4" fill="#000"/>
<circle cx="87.12" cy="270.80" r="1.4" fill="#000"/>
<circle cx="87.12" cy="273.84" r="1.4" fill="#000"/>
<circle cx="94.03" cy="223.50" r="1.4" fill="#000"/>
<circle cx="94.03" cy="236.90" r="1.4" fill="#000"/>
<circle cx="94.03" cy="235.68" r="1.4" fill="#000"/>
<circle cx="94.03" cy="238.12" r="1.4" fill="#000"/>
<circle cx="93.23" cy="236.90" r="1.4" fill="#000"/>
<circle cx="94.83" cy="236.90" r="1.4" fill="#000"/>
<circle cx="94.03" cy="240.75" r="1.4" fill="#000"/>
<circle cx="94.03" cy="260.65" r="1.4" fill="#000"/>
<path d="M100.95,223.50V249.69M100.95,277.50V279.53" stroke="#333" stroke-width="1.0"/>
<rect x="98.25" y="249.69" width="5.4" height="27.81" fill="#5bc4e2" stroke="#222" stroke-width="0.85"/>
<path d="M98.25,253.75H103.65" stroke="#111" stroke-width="1.1"/>
<circle cx="100.95" cy="223.50" r="1.4" fill="#000"/>
<circle cx="100.95" cy="237.30" r="1.4" fill="#000"/>
<circle cx="100.95" cy="249.89" r="1.4" fill="#000"/>
<circle cx="100.95" cy="251.92" r="1.4" fill="#000"/>
<circle cx="100.95" cy="252.94" r="1.4" fill="#000"/>
<circle cx="100.95" cy="253.95" r="1.4" fill="#000"/>
<circle cx="100.95" cy="254.97" r="1.4" fill="#000"/>
<circle cx="100.95" cy="279.53" r="1.4" fill="#000"/>
<path d="M107.86,303.69V307.34M107.86,314.65V316.88" stroke="#333" stroke-width="1.0"/>
<rect x="105.16" y="307.34" width="5.4" height="7.31" fill="#5bc4e2" stroke="#222" stroke-width="0.85"/>
<path d="M105.16,311.81H110.56" stroke="#111" stroke-width="1.1"/>
<circle cx="107.86" cy="316.88" r="1.4" fill="#000"/>
<circle cx="107.36" cy="314.85" r="1.4" fill="#000"/>
<circle cx="108.36" cy="312.82" r="1.4" fill="#000"/>
<circle cx="107.86" cy="311.81" r="1.4" fill="#000"/>
<circle cx="107.61" cy="310.79" r="1.4" fill="#000"/>
<circle cx="108.11" cy="308.76" r="1.4" fill="#000"/>
<circle cx="107.86" cy="306.73" r="1.4" fill="#000"/>
<circle cx="107.36" cy="303.69" r="1.4" fill="#000"/>
<path d="M114.78,238.73V240.15M114.78,289.88V292.52" stroke="#333" stroke-width="1.0"/>
<rect x="112.08" y="240.15" width="5.4" height="49.74" fill="#5bc4e2" stroke="#222" stroke-width="0.85"/>
<path d="M112.08,262.88H117.48" stroke="#111" stroke-width="1.1"/>
<circle cx="114.78" cy="238.73" r="1.4" fill="#000"/>
<circle cx="114.78" cy="240.15" r="1.4" fill="#000"/>
<circle cx="114.78" cy="241.77" r="1.4" fill="#000"/>
<circle cx="114.78" cy="262.88" r="1.4" fill="#000"/>
<circle cx="114.78" cy="289.88" r="1.4" fill="#000"/>
<circle cx="114.78" cy="291.50" r="1.4" fill="#000"/>
<circle cx="114.78" cy="292.52" r="1.4" fill="#000"/>
<path d="M121.69,292.11V293.13M121.69,304.50V323.99" stroke="#333" stroke-width="1.0"/>
<rect x="118.99" y="293.13" width="5.4" height="11.37" fill="#5bc4e2" stroke="#222" stroke-width="0.85"/>
<path d="M118.99,298.61H124.39" stroke="#111" stroke-width="1.1"/>
<circle cx="121.69" cy="323.99" r="1.4" fill="#000"/>
<circle cx="121.19" cy="303.69" r="1.4" fill="#000"/>
<circle cx="122.19" cy="302.67" r="1.4" fill="#000"/>
<circle cx="121.69" cy="300.64" r="1.4" fill="#000"/>
<circle cx="121.44" cy="298.61" r="1.4" fill="#000"/>
<circle cx="121.94" cy="296.58" r="1.4" fill="#000"/>
<circle cx="121.69" cy="294.55" r="1.4" fill="#000"/>
<circle cx="121.19" cy="292.11" r="1.4" fill="#000"/>
<circle cx="128.61" cy="288.46" r="1.4" fill="#000"/>
<circle cx="128.61" cy="304.90" r="1.4" fill="#000"/>
<circle cx="128.61" cy="303.99" r="1.4" fill="#000"/>
<circle cx="128.61" cy="305.82" r="1.4" fill="#000"/>
<circle cx="127.71" cy="304.90" r="1.4" fill="#000"/>
<circle cx="129.51" cy="304.90" r="1.4" fill="#000"/>
<circle cx="128.61" cy="312.41" r="1.4" fill="#000"/>
<path d="M135.53,311.20V312.01M135.53,317.89V318.91" stroke="#333" stroke-width="1.0"/>
<rect x="132.83" y="312.01" width="5.4" height="5.89" fill="#5bc4e2" stroke="#222" stroke-width="0.85"/>
<path d="M132.83,315.87H138.22" stroke="#111" stroke-width="1.1"/>
<circle cx="135.53" cy="291.10" r="1.4" fill="#000"/>
<circle cx="135.53" cy="318.50" r="1.4" fill="#000"/>
<circle cx="135.03" cy="316.88" r="1.4" fill="#000"/>
<circle cx="136.03" cy="314.85" r="1.4" fill="#000"/>
<circle cx="135.53" cy="312.82" r="1.4" fill="#000"/>
<circle cx="135.28" cy="311.20" r="1.4" fill="#000"/>
<path d="M142.44,223.50V233.45M142.44,248.27V250.50" stroke="#333" stroke-width="1.0"/>
<rect x="139.74" y="233.45" width="5.4" height="14.82" fill="#5bc4e2" stroke="#222" stroke-width="0.85"/>
<path d="M139.74,245.02H145.14" stroke="#111" stroke-width="1.1"/>
<circle cx="142.44" cy="223.50" r="1.4" fill="#000"/>
<circle cx="142.44" cy="233.65" r="1.4" fill="#000"/>
<circle cx="142.44" cy="241.77" r="1.4" fill="#000"/>
<circle cx="142.44" cy="243.80" r="1.4" fill="#000"/>
<circle cx="141.84" cy="245.02" r="1.4" fill="#000"/>
<circle cx="143.04" cy="246.24" r="1.4" fill="#000"/>
<circle cx="142.44" cy="247.45" r="1.4" fill="#000"/>
<circle cx="142.44" cy="250.50" r="1.4" fill="#000"/>
<circle cx="142.44" cy="319.32" r="1.4" fill="#000"/>
<path d="M149.36,223.50V223.50M149.36,240.15V249.28" stroke="#333" stroke-width="1.0"/>
<rect x="146.66" y="223.50" width="5.4" height="16.65" fill="#5bc4e2" stroke="#222" stroke-width="0.85"/>
<path d="M146.66,229.59H152.06" stroke="#111" stroke-width="1.1"/>
<circle cx="149.36" cy="223.50" r="1.4" fill="#000"/>
<circle cx="149.36" cy="225.53" r="1.4" fill="#000"/>
<circle cx="149.36" cy="227.56" r="1.4" fill="#000"/>
<circle cx="149.36" cy="229.59" r="1.4" fill="#000"/>
<circle cx="149.36" cy="232.43" r="1.4" fill="#000"/>
<circle cx="149.36" cy="237.71" r="1.4" fill="#000"/>
<circle cx="149.36" cy="240.15" r="1.4" fill="#000"/>
<circle cx="149.36" cy="246.85" r="1.4" fill="#000"/>
<circle cx="149.36" cy="249.28" r="1.4" fill="#000"/>
<path d="M156.27,296.99V297.60M156.27,301.65V303.08" stroke="#333" stroke-width="1.0"/>
<rect x="153.57" y="297.60" width="5.4" height="4.06" fill="#5bc4e2" stroke="#222" stroke-width="0.85"/>
<path d="M153.57,299.62H158.97" stroke="#111" stroke-width="1.1"/>
<circle cx="156.27" cy="267.75" r="1.4" fill="#000"/>
<circle cx="156.27" cy="296.99" r="1.4" fill="#000"/>
<circle cx="155.47" cy="298.61" r="1.4" fill="#000"/>
<circle cx="157.07" cy="299.62" r="1.4" fill="#000"/>
<circle cx="156.27" cy="300.64" r="1.4" fill="#000"/>
<circle cx="155.87" cy="302.67" r="1.4" fill="#000"/>
<circle cx="156.67" cy="303.08" r="1.4" fill="#000"/>
<circle cx="156.27" cy="312.41" r="1.4" fill="#000"/>
<path d="M163.19,223.50V249.69M163.19,276.08V295.36" stroke="#333" stroke-width="1.0"/>
<rect x="160.49" y="249.69" width="5.4" height="26.39" fill="#5bc4e2" stroke="#222" stroke-width="0.85"/>
<path d="M160.49,258.01H165.88" stroke="#111" stroke-width="1.1"/>
<circle cx="163.19" cy="223.50" r="1.4" fill="#000"/>
<circle cx="163.19" cy="248.88" r="1.4" fill="#000"/>
<circle cx="163.19" cy="250.30" r="1.4" fill="#000"/>
<circle cx="163.19" cy="251.92" r="1.4" fill="#000"/>
<circle cx="163.19" cy="258.01" r="1.4" fill="#000"/>
<circle cx="163.19" cy="295.36" r="1.4" fill="#000"/>
<path d="M170.10,304.50V305.51M170.10,308.76V310.38" stroke="#333" stroke-width="1.0"/>
<rect x="167.40" y="305.51" width="5.4" height="3.25" fill="#5bc4e2" stroke="#222" stroke-width="0.85"/>
<path d="M167.40,307.14H172.80" stroke="#111" stroke-width="1.1"/>
<circle cx="170.10" cy="310.38" r="1.4" fill="#000"/>
<circle cx="169.30" cy="308.76" r="1.4" fill="#000"/>
<circle cx="170.90" cy="307.75" r="1.4" fill="#000"/>
<circle cx="170.10" cy="306.73" r="1.4" fill="#000"/>
<circle cx="169.70" cy="305.72" r="1.4" fill="#000"/>
<circle cx="170.50" cy="304.50" r="1.4" fill="#000"/>
<path d="M177.02,223.50V237.91M177.02,258.82V258.82" stroke="#333" stroke-width="1.0"/>
<rect x="174.32" y="237.91" width="5.4" height="20.91" fill="#5bc4e2" stroke="#222" stroke-width="0.85"/>
<path d="M174.32,249.69H179.72" stroke="#111" stroke-width="1.1"/>
<circle cx="177.02" cy="223.50" r="1.4" fill="#000"/>
<circle cx="177.02" cy="237.91" r="1.4" fill="#000"/>
<circle cx="177.02" cy="238.73" r="1.4" fill="#000"/>
<circle cx="177.02" cy="249.69" r="1.4" fill="#000"/>
<circle cx="177.02" cy="258.82" r="1.4" fill="#000"/>
<circle cx="177.02" cy="310.38" r="1.4" fill="#000"/>
<circle cx="183.93" cy="283.18" r="1.4" fill="#000"/>
<circle cx="183.93" cy="282.27" r="1.4" fill="#000"/>
<circle cx="183.93" cy="284.10" r="1.4" fill="#000"/>
<circle cx="183.03" cy="283.18" r="1.4" fill="#000"/>
<circle cx="184.83" cy="283.18" r="1.4" fill="#000"/>
<path d="M190.84,227.76V232.84M190.84,242.99V242.99" stroke="#333" stroke-width="1.0"/>
<rect x="188.15" y="232.84" width="5.4" height="10.15" fill="#5bc4e2" stroke="#222" stroke-width="0.85"/>
<path d="M188.15,238.12H193.54" stroke="#111" stroke-width="1.1"/>
<circle cx="190.84" cy="227.76" r="1.4" fill="#000"/>
<circle cx="190.84" cy="232.84" r="1.4" fill="#000"/>
<circle cx="190.84" cy="237.71" r="1.4" fill="#000"/>
<circle cx="190.84" cy="238.52" r="1.4" fill="#000"/>
<circle cx="190.84" cy="242.99" r="1.4" fill="#000"/>
<circle cx="190.84" cy="283.18" r="1.4" fill="#000"/>
<circle cx="197.76" cy="316.27" r="1.4" fill="#000"/>
<circle cx="197.76" cy="315.36" r="1.4" fill="#000"/>
<circle cx="197.76" cy="317.18" r="1.4" fill="#000"/>
<circle cx="196.86" cy="316.27" r="1.4" fill="#000"/>
<circle cx="198.66" cy="316.27" r="1.4" fill="#000"/>
<circle cx="204.68" cy="274.45" r="1.4" fill="#000"/>
<circle cx="204.68" cy="273.54" r="1.4" fill="#000"/>
<circle cx="204.68" cy="275.37" r="1.4" fill="#000"/>
<circle cx="203.78" cy="274.45" r="1.4" fill="#000"/>
<circle cx="205.58" cy="274.45" r="1.4" fill="#000"/>
<path d="M211.59,302.67V303.48M211.59,308.96V310.38" stroke="#333" stroke-width="1.0"/>
<rect x="208.89" y="303.48" width="5.4" height="5.48" fill="#5bc4e2" stroke="#222" stroke-width="0.85"/>
<path d="M208.89,306.12H214.29" stroke="#111" stroke-width="1.1"/>
<circle cx="211.59" cy="310.38" r="1.4" fill="#000"/>
<circle cx="211.59" cy="308.76" r="1.4" fill="#000"/>
<circle cx="211.59" cy="306.73" r="1.4" fill="#000"/>
<circle cx="211.59" cy="304.70" r="1.4" fill="#000"/>
<circle cx="211.59" cy="302.67" r="1.4" fill="#000"/>
<circle cx="211.59" cy="253.14" r="1.4" fill="#000"/>
<path d="M218.51,312.41V313.43M218.51,320.74V322.77" stroke="#333" stroke-width="1.0"/>
<rect x="215.81" y="313.43" width="5.4" height="7.31" fill="#5bc4e2" stroke="#222" stroke-width="0.85"/>
<path d="M215.81,317.29H221.21" stroke="#111" stroke-width="1.1"/>
<circle cx="218.51" cy="322.77" r="1.4" fill="#000"/>
<circle cx="218.51" cy="320.94" r="1.4" fill="#000"/>
<circle cx="218.51" cy="318.91" r="1.4" fill="#000"/>
<circle cx="218.51" cy="316.88" r="1.4" fill="#000"/>
<circle cx="218.51" cy="314.85" r="1.4" fill="#000"/>
<circle cx="218.51" cy="312.41" r="1.4" fill="#000"/>
<circle cx="225.42" cy="309.77" r="1.4" fill="#000"/>
<circle cx="225.42" cy="317.08" r="1.4" fill="#000"/>
<circle cx="224.52" cy="318.50" r="1.4" fill="#000"/>
<circle cx="226.32" cy="319.72" r="1.4" fill="#000"/>
<circle cx="225.42" cy="320.74" r="1.4" fill="#000"/>
<path d="M232.34,268.77V269.18M232.34,308.15V316.27" stroke="#333" stroke-width="1.0"/>
<rect x="229.64" y="269.18" width="5.4" height="38.98" fill="#5bc4e2" stroke="#222" stroke-width="0.85"/>
<path d="M229.64,306.73H235.03" stroke="#111" stroke-width="1.1"/>
<circle cx="232.34" cy="268.77" r="1.4" fill="#000"/>
<circle cx="232.34" cy="306.73" r="1.4" fill="#000"/>
<circle cx="232.34" cy="308.15" r="1.4" fill="#000"/>
<circle cx="232.34" cy="316.27" r="1.4" fill="#000"/>
<circle cx="238.35" cy="323.58" r="1.4" fill="#000"/>
<circle cx="239.25" cy="323.58" r="1.4" fill="#000"/>
<circle cx="240.15" cy="323.58" r="1.4" fill="#000"/>
<path d="M246.17,228.37V228.37M246.17,323.58V323.58" stroke="#333" stroke-width="1.0"/>
<rect x="243.47" y="228.37" width="5.4" height="95.21" fill="#5bc4e2" stroke="#222" stroke-width="0.85"/>
<path d="M243.47,314.85H248.87" stroke="#111" stroke-width="1.1"/>
<circle cx="246.17" cy="228.37" r="1.4" fill="#000"/>
<circle cx="246.17" cy="314.85" r="1.4" fill="#000"/>
<circle cx="246.17" cy="323.58" r="1.4" fill="#000"/>
<circle cx="252.18" cy="319.52" r="1.4" fill="#000"/>
<circle cx="253.08" cy="319.52" r="1.4" fill="#000"/>
<circle cx="253.98" cy="319.52" r="1.4" fill="#000"/>
<path d="M260.00,282.88V282.88M260.00,291.50V291.50" stroke="#333" stroke-width="1.0"/>
<rect x="257.30" y="282.88" width="5.4" height="8.63" fill="#5bc4e2" stroke="#222" stroke-width="0.85"/>
<path d="M257.30,287.44H262.69" stroke="#111" stroke-width="1.1"/>
<circle cx="260.00" cy="282.88" r="1.4" fill="#000"/>
<circle cx="260.00" cy="287.44" r="1.4" fill="#000"/>
<circle cx="260.00" cy="291.50" r="1.4" fill="#000"/>
<path d="M27.5,243.80H264.2" stroke="#e8202a" stroke-width="1.2" stroke-dasharray="4.4 4.05"/>
<path d="M27.5,284.40H264.2" stroke="#1f5cc6" stroke-width="1.2" stroke-dasharray="4.4 4.05"/>
<path d="M27.5,218.3V329.7H264.2" fill="none" stroke="#111" stroke-width="1.25"/>
<path d="M25.5,325.00H27.5" stroke="#333" stroke-width="1"/>
<text x="24.70" y="327.10" font-size="6.0" fill="#5e5e5e" text-anchor="end"  stroke="#5e5e5e" stroke-width="0.08">50</text>
<path d="M25.5,304.70H27.5" stroke="#333" stroke-width="1"/>
<text x="24.70" y="306.80" font-size="6.0" fill="#5e5e5e" text-anchor="end"  stroke="#5e5e5e" stroke-width="0.08">60</text>
<path d="M25.5,284.40H27.5" stroke="#333" stroke-width="1"/>
<text x="24.70" y="286.50" font-size="6.0" fill="#5e5e5e" text-anchor="end"  stroke="#5e5e5e" stroke-width="0.08">70</text>
<path d="M25.5,264.10H27.5" stroke="#333" stroke-width="1"/>
<text x="24.70" y="266.20" font-size="6.0" fill="#5e5e5e" text-anchor="end"  stroke="#5e5e5e" stroke-width="0.08">80</text>
<path d="M25.5,243.80H27.5" stroke="#333" stroke-width="1"/>
<text x="24.70" y="245.90" font-size="6.0" fill="#5e5e5e" text-anchor="end"  stroke="#5e5e5e" stroke-width="0.08">90</text>
<path d="M25.5,223.50H27.5" stroke="#333" stroke-width="1"/>
<text x="24.70" y="225.60" font-size="6.0" fill="#5e5e5e" text-anchor="end"  stroke="#5e5e5e" stroke-width="0.08">100</text>
<path d="M31.80,329.7V331.60" stroke="#333" stroke-width="1"/>
<text transform="translate(34.50,335.60) scale(1.08,1) rotate(-45)" font-size="5.5" fill="#6e6e6e" text-anchor="end" stroke="#6e6e6e" stroke-width="0.05">cyclophilin</text>
<path d="M38.72,329.7V331.60" stroke="#333" stroke-width="1"/>
<text transform="translate(41.42,335.60) scale(1.08,1) rotate(-45)" font-size="5.5" fill="#6e6e6e" text-anchor="end" stroke="#6e6e6e" stroke-width="0.05">Parvalbumin</text>
<path d="M45.63,329.7V331.60" stroke="#333" stroke-width="1"/>
<text transform="translate(48.33,335.60) scale(1.08,1) rotate(-45)" font-size="5.5" fill="#6e6e6e" text-anchor="end" stroke="#6e6e6e" stroke-width="0.05">Porin</text>
<path d="M52.55,329.7V331.60" stroke="#333" stroke-width="1"/>
<text transform="translate(55.25,335.60) scale(1.08,1) rotate(-45)" font-size="5.5" fill="#6e6e6e" text-anchor="end" stroke="#6e6e6e" stroke-width="0.05">Ferritin</text>
<path d="M59.46,329.7V331.60" stroke="#333" stroke-width="1"/>
<text transform="translate(62.16,335.60) scale(1.08,1) rotate(-45)" font-size="5.5" fill="#6e6e6e" text-anchor="end" stroke="#6e6e6e" stroke-width="0.05">Hsp70</text>
<path d="M66.38,329.7V331.60" stroke="#333" stroke-width="1"/>
<text transform="translate(69.08,335.60) scale(1.08,1) rotate(-45)" font-size="5.5" fill="#6e6e6e" text-anchor="end" stroke="#6e6e6e" stroke-width="0.05">aldolase</text>
<path d="M73.29,329.7V331.60" stroke="#333" stroke-width="1"/>
<text transform="translate(75.99,335.60) scale(1.08,1) rotate(-45)" font-size="5.5" fill="#6e6e6e" text-anchor="end" stroke="#6e6e6e" stroke-width="0.05">RPL3</text>
<path d="M80.20,329.7V331.60" stroke="#333" stroke-width="1"/>
<text transform="translate(82.91,335.60) scale(1.08,1) rotate(-45)" font-size="5.5" fill="#6e6e6e" text-anchor="end" stroke="#6e6e6e" stroke-width="0.05">SOD</text>
<path d="M87.12,329.7V331.60" stroke="#333" stroke-width="1"/>
<text transform="translate(89.82,335.60) scale(1.08,1) rotate(-45)" font-size="5.5" fill="#6e6e6e" text-anchor="end" stroke="#6e6e6e" stroke-width="0.05">GAPDH</text>
<path d="M94.03,329.7V331.60" stroke="#333" stroke-width="1"/>
<text transform="translate(96.73,335.60) scale(1.08,1) rotate(-45)" font-size="5.5" fill="#6e6e6e" text-anchor="end" stroke="#6e6e6e" stroke-width="0.05">enolase</text>
<path d="M100.95,329.7V331.60" stroke="#333" stroke-width="1"/>
<text transform="translate(103.65,335.60) scale(1.08,1) rotate(-45)" font-size="5.5" fill="#6e6e6e" text-anchor="end" stroke="#6e6e6e" stroke-width="0.05">LDH</text>
<path d="M107.86,329.7V331.60" stroke="#333" stroke-width="1"/>
<text transform="translate(110.56,335.60) scale(1.08,1) rotate(-45)" font-size="5.5" fill="#6e6e6e" text-anchor="end" stroke="#6e6e6e" stroke-width="0.05">UAP</text>
<path d="M114.78,329.7V331.60" stroke="#333" stroke-width="1"/>
<text transform="translate(117.48,335.60) scale(1.08,1) rotate(-45)" font-size="5.5" fill="#6e6e6e" text-anchor="end" stroke="#6e6e6e" stroke-width="0.05">Creatine</text>
<path d="M121.69,329.7V331.60" stroke="#333" stroke-width="1"/>
<text transform="translate(124.39,335.60) scale(1.08,1) rotate(-45)" font-size="5.5" fill="#6e6e6e" text-anchor="end" stroke="#6e6e6e" stroke-width="0.05">peroxiredoxin</text>
<path d="M128.61,329.7V331.60" stroke="#333" stroke-width="1"/>
<text transform="translate(131.31,335.60) scale(1.08,1) rotate(-45)" font-size="5.5" fill="#6e6e6e" text-anchor="end" stroke="#6e6e6e" stroke-width="0.05">ALDH</text>
<path d="M135.53,329.7V331.60" stroke="#333" stroke-width="1"/>
<text transform="translate(138.22,335.60) scale(1.08,1) rotate(-45)" font-size="5.5" fill="#6e6e6e" text-anchor="end" stroke="#6e6e6e" stroke-width="0.05">MDH</text>
<path d="M142.44,329.7V331.60" stroke="#333" stroke-width="1"/>
<text transform="translate(145.14,335.60) scale(1.08,1) rotate(-45)" font-size="5.5" fill="#6e6e6e" text-anchor="end" stroke="#6e6e6e" stroke-width="0.05">TPI</text>
<path d="M149.36,329.7V331.60" stroke="#333" stroke-width="1"/>
<text transform="translate(152.06,335.60) scale(1.08,1) rotate(-45)" font-size="5.5" fill="#6e6e6e" text-anchor="end" stroke="#6e6e6e" stroke-width="0.05">tropomyosin</text>
<path d="M156.27,329.7V331.60" stroke="#333" stroke-width="1"/>
<text transform="translate(158.97,335.60) scale(1.08,1) rotate(-45)" font-size="5.5" fill="#6e6e6e" text-anchor="end" stroke="#6e6e6e" stroke-width="0.05">Cytochrome</text>
<path d="M163.19,329.7V331.60" stroke="#333" stroke-width="1"/>
<text transform="translate(165.88,335.60) scale(1.08,1) rotate(-45)" font-size="5.5" fill="#6e6e6e" text-anchor="end" stroke="#6e6e6e" stroke-width="0.05">PK</text>
<path d="M170.10,329.7V331.60" stroke="#333" stroke-width="1"/>
<text transform="translate(172.80,335.60) scale(1.08,1) rotate(-45)" font-size="5.5" fill="#6e6e6e" text-anchor="end" stroke="#6e6e6e" stroke-width="0.05">eIF3</text>
<path d="M177.02,329.7V331.60" stroke="#333" stroke-width="1"/>
<text transform="translate(179.72,335.60) scale(1.08,1) rotate(-45)" font-size="5.5" fill="#6e6e6e" text-anchor="end" stroke="#6e6e6e" stroke-width="0.05">GPI</text>
<path d="M183.93,329.7V331.60" stroke="#333" stroke-width="1"/>
<text transform="translate(186.63,335.60) scale(1.08,1) rotate(-45)" font-size="5.5" fill="#6e6e6e" text-anchor="end" stroke="#6e6e6e" stroke-width="0.05">actinin</text>
<path d="M190.84,329.7V331.60" stroke="#333" stroke-width="1"/>
<text transform="translate(193.54,335.60) scale(1.08,1) rotate(-45)" font-size="5.5" fill="#6e6e6e" text-anchor="end" stroke="#6e6e6e" stroke-width="0.05">tubulin</text>
<path d="M197.76,329.7V331.60" stroke="#333" stroke-width="1"/>
<text transform="translate(200.46,335.60) scale(1.08,1) rotate(-45)" font-size="5.5" fill="#6e6e6e" text-anchor="end" stroke="#6e6e6e" stroke-width="0.05">amylase</text>
<path d="M204.68,329.7V331.60" stroke="#333" stroke-width="1"/>
<text transform="translate(207.38,335.60) scale(1.08,1) rotate(-45)" font-size="5.5" fill="#6e6e6e" text-anchor="end" stroke="#6e6e6e" stroke-width="0.05">PG</text>
<path d="M211.59,329.7V331.60" stroke="#333" stroke-width="1"/>
<text transform="translate(214.29,335.60) scale(1.08,1) rotate(-45)" font-size="5.5" fill="#6e6e6e" text-anchor="end" stroke="#6e6e6e" stroke-width="0.05">Transaldolase</text>
<path d="M218.51,329.7V331.60" stroke="#333" stroke-width="1"/>
<text transform="translate(221.21,335.60) scale(1.08,1) rotate(-45)" font-size="5.5" fill="#6e6e6e" text-anchor="end" stroke="#6e6e6e" stroke-width="0.05">Serpin</text>
<path d="M225.42,329.7V331.60" stroke="#333" stroke-width="1"/>
<text transform="translate(228.12,335.60) scale(1.08,1) rotate(-45)" font-size="5.5" fill="#6e6e6e" text-anchor="end" stroke="#6e6e6e" stroke-width="0.05">Papain</text>
<path d="M232.34,329.7V331.60" stroke="#333" stroke-width="1"/>
<text transform="translate(235.03,335.60) scale(1.08,1) rotate(-45)" font-size="5.5" fill="#6e6e6e" text-anchor="end" stroke="#6e6e6e" stroke-width="0.05">RPLP2</text>
<path d="M239.25,329.7V331.60" stroke="#333" stroke-width="1"/>
<text transform="translate(241.95,335.60) scale(1.08,1) rotate(-45)" font-size="5.5" fill="#6e6e6e" text-anchor="end" stroke="#6e6e6e" stroke-width="0.05">FABP</text>
<path d="M246.17,329.7V331.60" stroke="#333" stroke-width="1"/>
<text transform="translate(248.87,335.60) scale(1.08,1) rotate(-45)" font-size="5.5" fill="#6e6e6e" text-anchor="end" stroke="#6e6e6e" stroke-width="0.05">Thioredoxin</text>
<path d="M253.08,329.7V331.60" stroke="#333" stroke-width="1"/>
<text transform="translate(255.78,335.60) scale(1.08,1) rotate(-45)" font-size="5.5" fill="#6e6e6e" text-anchor="end" stroke="#6e6e6e" stroke-width="0.05">Pepsin</text>
<path d="M260.00,329.7V331.60" stroke="#333" stroke-width="1"/>
<text transform="translate(262.69,335.60) scale(1.08,1) rotate(-45)" font-size="5.5" fill="#6e6e6e" text-anchor="end" stroke="#6e6e6e" stroke-width="0.05">ADH</text>
<text x="121.30" y="365.80" font-size="6.6" fill="#000" text-anchor="start" textLength="49.10" lengthAdjust="spacingAndGlyphs"  stroke="#000" stroke-width="0.15">Target Allergen</text>
<text transform="translate(10.60,273.50) scale(1.0,1) rotate(-90)" font-size="7.6" fill="#000" text-anchor="middle" textLength="73.70" lengthAdjust="spacingAndGlyphs">Blast pairwise identity (%)</text>
<text transform="translate(267.6,206.5) scale(1,1.12)" font-family="'Liberation Serif', serif" font-weight="bold" font-size="11.2">D</text>
<text x="293.10" y="212.40" font-size="9.6" fill="#000" text-anchor="start" textLength="119.10" lengthAdjust="spacingAndGlyphs"  stroke="#000" stroke-width="0.15">Source of target allergens</text>
<path d="M377.0,289.65L377.00,221.30A71.7,68.35 0 0 1 424.13,238.14Z" fill="#dfe200" stroke="#dfe200" stroke-width="0.35" stroke-linejoin="round"/>
<path d="M377.0,289.65L424.13,238.14A71.7,68.35 0 0 1 430.62,244.27Z" fill="#c875bb" stroke="#c875bb" stroke-width="0.35" stroke-linejoin="round"/>
<path d="M377.0,289.65L430.62,244.27A71.7,68.35 0 0 1 435.52,250.15Z" fill="#898cca" stroke="#898cca" stroke-width="0.35" stroke-linejoin="round"/>
<path d="M377.0,289.65L435.52,250.15A71.7,68.35 0 0 1 442.14,261.09Z" fill="#f982bd" stroke="#f982bd" stroke-width="0.35" stroke-linejoin="round"/>
<path d="M377.0,289.65L442.14,261.09A71.7,68.35 0 0 1 447.43,276.84Z" fill="#00b8bd" stroke="#00b8bd" stroke-width="0.35" stroke-linejoin="round"/>
<path d="M377.0,289.65L447.43,276.84A71.7,68.35 0 0 1 447.76,300.70Z" fill="#027aa3" stroke="#027aa3" stroke-width="0.35" stroke-linejoin="round"/>
<path d="M377.0,289.65L447.76,300.70A71.7,68.35 0 0 1 436.93,327.18Z" fill="#02b021" stroke="#02b021" stroke-width="0.35" stroke-linejoin="round"/>
<path d="M377.0,289.65L436.93,327.18A71.7,68.35 0 0 1 407.75,351.39Z" fill="#a0a000" stroke="#a0a000" stroke-width="0.35" stroke-linejoin="round"/>
<path d="M377.0,289.65L407.75,351.39A71.7,68.35 0 0 1 319.21,330.11Z" fill="#e88c00" stroke="#e88c00" stroke-width="0.35" stroke-linejoin="round"/>
<path d="M377.0,289.65L319.21,330.11A71.7,68.35 0 0 1 377.00,221.30Z" fill="#fc766b" stroke="#fc766b" stroke-width="0.35" stroke-linejoin="round"/>
<text x="313.50" y="244.10" font-size="6.8" fill="#2a2a2a" text-anchor="middle"  stroke="#2a2a2a" stroke-width="0.15">35%</text>
<text x="348.50" y="363.60" font-size="6.8" fill="#2a2a2a" text-anchor="middle"  stroke="#2a2a2a" stroke-width="0.15">22%</text>
<text x="434.50" y="347.50" font-size="6.8" fill="#2a2a2a" text-anchor="middle"  stroke="#2a2a2a" stroke-width="0.15">9%</text>
<text x="415.30" y="225.60" font-size="6.8" fill="#2a2a2a" text-anchor="middle"  stroke="#2a2a2a" stroke-width="0.15">11%</text>
<text x="469.60" y="246.90" font-size="6.6" fill="#000" text-anchor="start"  stroke="#000" stroke-width="0.15">Species</text>
<rect x="469.9" y="250.60" width="8.4" height="7.9" fill="#fc766b"/>
<text x="481.70" y="256.60" font-size="6.6" fill="#000" text-anchor="start" textLength="8.89" lengthAdjust="spacingAndGlyphs"  stroke="#000" stroke-width="0.15">fish</text>
<rect x="469.9" y="259.30" width="8.4" height="7.9" fill="#e88c00"/>
<text x="481.70" y="265.30" font-size="6.6" fill="#000" text-anchor="start" textLength="19.05" lengthAdjust="spacingAndGlyphs"  stroke="#000" stroke-width="0.15">Fungus</text>
<rect x="469.9" y="268.00" width="8.4" height="7.9" fill="#a0a000"/>
<text x="481.70" y="274.00" font-size="6.6" fill="#000" text-anchor="start" textLength="10.79" lengthAdjust="spacingAndGlyphs"  stroke="#000" stroke-width="0.15">mite</text>
<rect x="469.9" y="276.70" width="8.4" height="7.9" fill="#02b021"/>
<text x="481.70" y="282.70" font-size="6.6" fill="#000" text-anchor="start" textLength="16.51" lengthAdjust="spacingAndGlyphs"  stroke="#000" stroke-width="0.15">Wheat</text>
<rect x="469.9" y="285.40" width="8.4" height="7.9" fill="#027aa3"/>
<text x="481.70" y="291.40" font-size="6.6" fill="#000" text-anchor="start" textLength="26.04" lengthAdjust="spacingAndGlyphs"  stroke="#000" stroke-width="0.15">cockroach</text>
<rect x="469.9" y="294.10" width="8.4" height="7.9" fill="#00b8bd"/>
<text x="481.70" y="300.10" font-size="6.6" fill="#000" text-anchor="start" textLength="13.02" lengthAdjust="spacingAndGlyphs"  stroke="#000" stroke-width="0.15">Olive</text>
<rect x="469.9" y="302.80" width="8.4" height="7.9" fill="#f982bd"/>
<text x="481.70" y="308.80" font-size="6.6" fill="#000" text-anchor="start" textLength="16.73" lengthAdjust="spacingAndGlyphs"  stroke="#000" stroke-width="0.15">Coffee</text>
<rect x="469.9" y="311.50" width="8.4" height="7.9" fill="#898cca"/>
<text x="481.70" y="317.50" font-size="6.6" fill="#000" text-anchor="start" textLength="19.37" lengthAdjust="spacingAndGlyphs"  stroke="#000" stroke-width="0.15">chicken</text>
<rect x="469.9" y="320.20" width="8.4" height="7.9" fill="#c875bb"/>
<text x="481.70" y="326.20" font-size="6.6" fill="#000" text-anchor="start" textLength="23.18" lengthAdjust="spacingAndGlyphs"  stroke="#000" stroke-width="0.15">mosquito</text>
<rect x="469.9" y="328.90" width="8.4" height="7.9" fill="#dfe200"/>
<text x="481.70" y="334.90" font-size="6.6" fill="#000" text-anchor="start" textLength="17.14" lengthAdjust="spacingAndGlyphs"  stroke="#000" stroke-width="0.15">Others</text>
</g>
</svg></body></html>
